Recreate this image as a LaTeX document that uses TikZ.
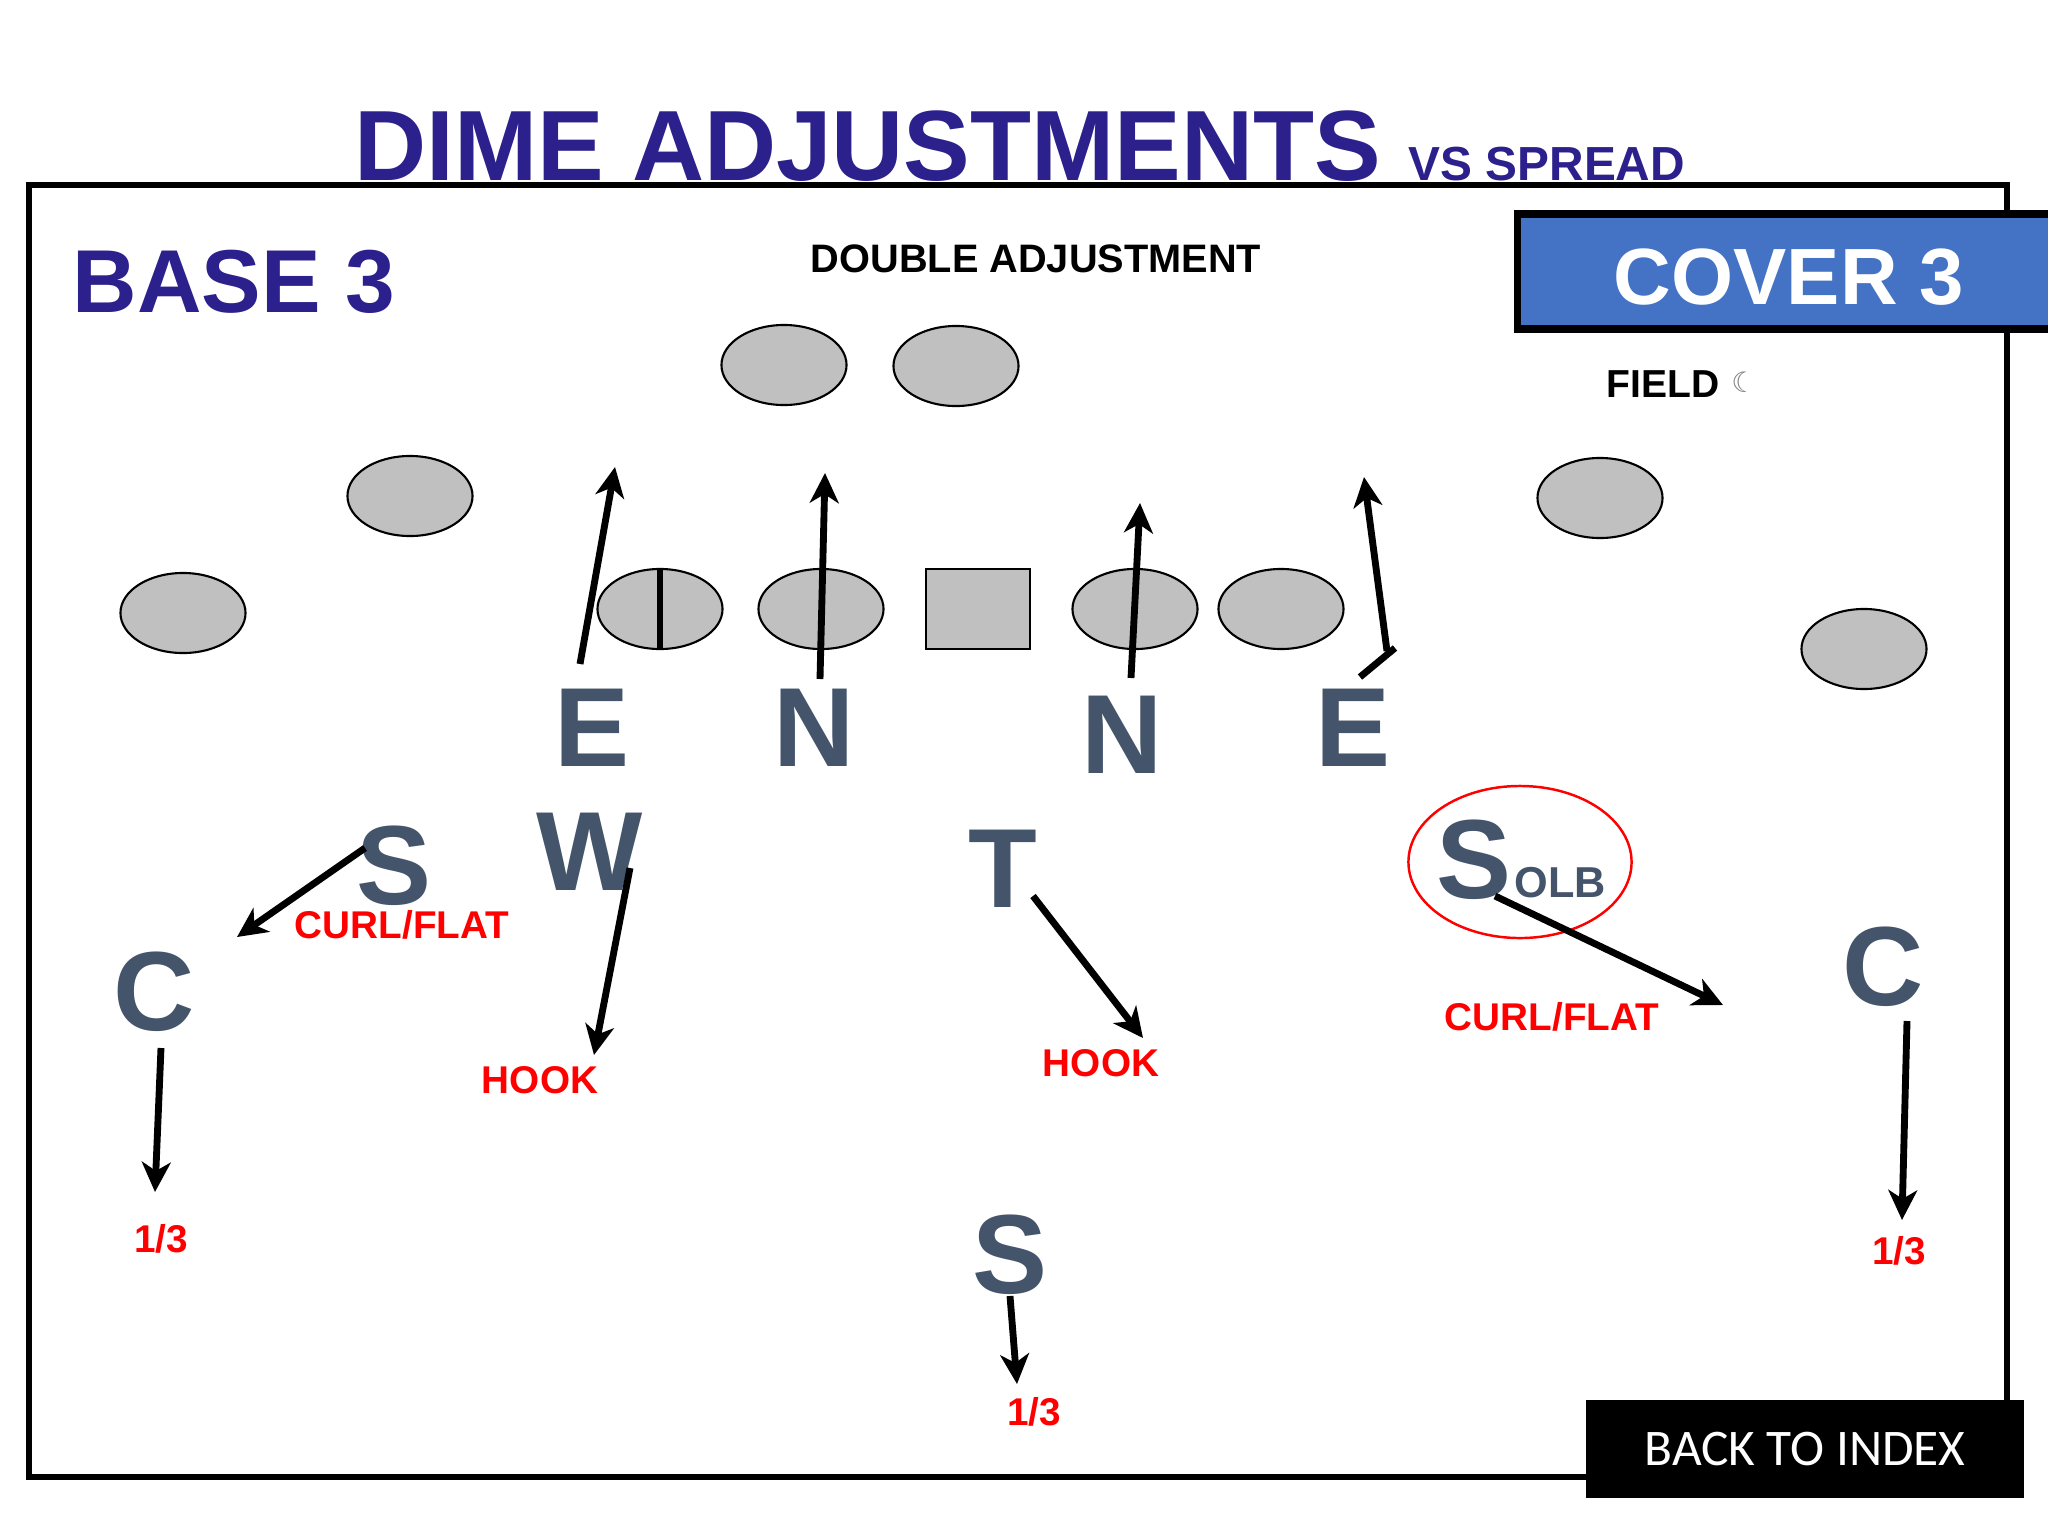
\documentclass[tikz,border=0pt]{standalone}
\usepackage{fontspec}
\setmainfont{Liberation Sans}
\newfontfamily\calibfont{Carlito}
\newfontfamily\symbfont{DejaVu Sans}
\usetikzlibrary{positioning, shapes.geometric, arrows.meta}

\definecolor{titleblue}{HTML}{2C208C}
\definecolor{slate}{HTML}{44546A}
\definecolor{coverblue}{HTML}{4472C4}
\definecolor{silver}{HTML}{C0C0C0}

\begin{document}
\begin{tikzpicture}[x=0.01cm, y=-0.01cm,
    man node/.style={ellipse, draw, line width=0.6pt, fill=silver, minimum width=1.25cm, minimum height=0.8cm, inner sep=0pt},
    player/.style={font=\bfseries\fontsize{32}{32}\selectfont, text=slate, inner sep=0pt, anchor=base},
    zone/.style={font=\bfseries\fontsize{11}{11}\selectfont, text=red, inner sep=0pt, anchor=base},
    run/.style={line width=1.95pt, -{Stealth[length=8.5pt, width=8.2pt, inset=2.5pt]}}]

        \useasboundingbox (0,0) rectangle (2048,1536);
        \fill[white] (0,0) rectangle (2048,1536);

        % Title
        \node[anchor=base west, inner sep=0pt, text=titleblue, font=\bfseries\fontsize{28.4}{28.4}\selectfont] (title) at (354,180) {DIME ADJUSTMENTS};
        \node[base right=0.26cm of title, inner sep=0pt, text=titleblue, font=\bfseries\fontsize{13.6}{13.6}\selectfont] (vs) {VS SPREAD};

        % Field
        \draw[line width=1.45pt] (29,185) rectangle (2007,1477);

        \node[anchor=base west, inner sep=0pt, text=titleblue, font=\bfseries\fontsize{25.4}{25.4}\selectfont] (base) at (72,312) {BASE 3};
        \node[anchor=base, inner sep=0pt, font=\bfseries\fontsize{11.3}{11.3}\selectfont] (double) at (1036,272) {DOUBLE ADJUSTMENT};

        \draw[line width=2pt, fill=coverblue] (1517,214) rectangle (2090,329);
        \node[anchor=base, inner sep=0pt, text=white, font=\bfseries\fontsize{22.7}{22.7}\selectfont] (cover) at (1789,304) {COVER 3};

        \node[anchor=base west, inner sep=0pt, font=\bfseries\fontsize{11.1}{11.1}\selectfont] (field) at (1606,397) {FIELD};
        \node[inner sep=0pt, text=gray, font=\symbfont\fontsize{8}{8}\selectfont] (moon) at (1744,382) {☾};

        % Offense
        \node[man node] (wr1) at (183,613) {};
        \node[man node] (wr2) at (410,496) {};
        \node[man node] (bk1) at (784,365) {};
        \node[man node] (bk2) at (956,366) {};
        \node[man node] (wr3) at (1600,498) {};
        \node[man node] (wr4) at (1864,649) {};

        \node[man node] (lt) at (660,609) {};
        \node[man node] (lg) at (821,609) {};
        \node[draw, line width=0.6pt, fill=silver, minimum width=1.04cm, minimum height=0.8cm, inner sep=0pt] (ctr) at (978,609) {};
        \node[man node] (rg) at (1135,609) {};
        \node[man node] (rt) at (1281,609) {};
        \draw[line width=1.9pt] (lt.north) -- (lt.south);

        % Defense
        \node[ellipse, draw=red, line width=0.7pt, minimum width=2.23cm, minimum height=1.52cm, inner sep=0pt] (ring) at (1520,862) {};

        \node[player] (e1) at (592,766) {E};
        \node[player] (n1) at (814,766) {N};
        \node[player] (n2) at (1122,773) {N};
        \node[player] (e2) at (1353,766) {E};
        \node[player] (w) at (590,890) {W};
        \node[player] (t) at (1003,907) {T};
        \node[player] (s1) at (394,904) {S};
        \node[player] (c1) at (154,1030) {C};
        \node[player] (s2) at (1010,1293) {S};
        \node[player] (s3) at (1474,898) {S};
        \node[player, font=\bfseries\fontsize{12.3}{12.3}\selectfont] (olb) at (1560,897) {OLB};
        \node[player] (c2) at (1883,1005) {C};

        \node[zone] (cf1) at (402,938) {CURL/FLAT};
        \node[zone] (hk1) at (540,1093) {HOOK};
        \node[zone] (hk2) at (1101,1076) {HOOK};
        \node[zone] (th1) at (161,1252) {1/3};
        \node[zone] (cf2) at (1552,1030) {CURL/FLAT};
        \node[zone] (th2) at (1899,1264) {1/3};
        \node[zone] (th3) at (1034,1425) {1/3};

        % Edges
        \coordinate (e1a) at (580,664);   \coordinate (e1b) at (615,467);
        \coordinate (n1a) at (820,679);   \coordinate (n1b) at (825,473);
        \coordinate (n2a) at (1131,678);  \coordinate (n2b) at (1140,503);
        \coordinate (e2a) at (1387,651);  \coordinate (e2b) at (1364,477);
        \coordinate (e2c) at (1360,677);  \coordinate (e2d) at (1395,648);
        \coordinate (s1a) at (365,848);   \coordinate (s1b) at (237,937);
        \coordinate (wa) at (630,868);    \coordinate (wb) at (594,1055);
        \coordinate (ta) at (1033,896);   \coordinate (tb) at (1143,1038);
        \coordinate (c1a) at (161,1048);  \coordinate (c1b) at (155,1192);
        \coordinate (s3a) at (1495,896);  \coordinate (s3b) at (1723,1005);
        \coordinate (c2a) at (1907,1021); \coordinate (c2b) at (1902,1220);
        \coordinate (s2a) at (1010,1296); \coordinate (s2b) at (1017,1384);

        \foreach \a/\b in {e1a/e1b, n1a/n1b, n2a/n2b, e2a/e2b, s1a/s1b, wa/wb, ta/tb, c1a/c1b, s3a/s3b, c2a/c2b, s2a/s2b} {
            \draw[run] (\a) -- (\b);
        }
        \draw[line width=1.95pt] (e2c) -- (e2d);

        \node[fill=black, minimum width=4.38cm, minimum height=0.97cm, inner sep=0pt, text=white, font=\calibfont\fontsize{14.6}{14.6}\selectfont] (index) at (1805,1449) {BACK TO INDEX};
    \end{tikzpicture}
\end{document}
